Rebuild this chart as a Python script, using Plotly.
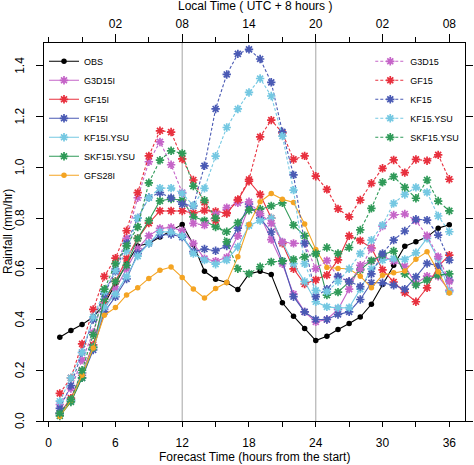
import plotly.graph_objects as go

# ── DATA ─────────────────────────────────────────────────────
hours = list(range(1, 37))

obs = [0.33, 0.357, 0.38, 0.41, 0.46, 0.54, 0.62, 0.69, 0.70, 0.725, 0.75, 0.775,
       0.696, 0.59, 0.559, 0.546, 0.518, 0.58, 0.59, 0.577, 0.466, 0.413, 0.365, 0.317,
       0.334, 0.361, 0.384, 0.41, 0.46, 0.538, 0.614, 0.689, 0.707, 0.726, 0.76, 0.774]

g3d15i = [0.03, 0.08, 0.18, 0.29, 0.44, 0.52, 0.60, 0.68, 0.73, 0.759, 0.763, 0.75,
          0.70, 0.64, 0.63, 0.645, 0.73, 0.845, 0.81, 0.715, 0.62, 0.50, 0.43, 0.391,
          0.40, 0.44, 0.52, 0.614, 0.63, 0.65, 0.63, 0.61, 0.542, 0.571, 0.57, 0.515]

gf15i = [0.03, 0.09, 0.19, 0.30, 0.47, 0.55, 0.64, 0.72, 0.78, 0.828, 0.828, 0.828,
         0.82, 0.83, 0.826, 0.82, 0.87, 0.945, 0.893, 0.80, 0.70, 0.60, 0.54, 0.556,
         0.575, 0.635, 0.73, 0.711, 0.682, 0.596, 0.548, 0.506, 0.47, 0.525, 0.61, 0.654]

kf15i = [0.03, 0.08, 0.17, 0.28, 0.43, 0.49, 0.56, 0.66, 0.70, 0.733, 0.735, 0.725,
         0.668, 0.678, 0.671, 0.69, 0.76, 0.855, 0.80, 0.745, 0.63, 0.49, 0.43, 0.40,
         0.40, 0.42, 0.43, 0.479, 0.545, 0.545, 0.535, 0.52, 0.568, 0.621, 0.612, 0.555]

kf15i_ysu = [0.03, 0.08, 0.19, 0.29, 0.45, 0.50, 0.57, 0.65, 0.70, 0.746, 0.745, 0.729,
             0.66, 0.634, 0.618, 0.634, 0.686, 0.77, 0.79, 0.80, 0.705, 0.62, 0.55, 0.47,
             0.45, 0.446, 0.447, 0.52, 0.60, 0.634, 0.64, 0.637, 0.663, 0.72, 0.64, 0.51]

skf15i_ysu = [0.02, 0.075, 0.17, 0.29, 0.48, 0.55, 0.614, 0.72, 0.79, 0.868, 0.875, 0.871,
              0.805, 0.79, 0.765, 0.746, 0.782, 0.831, 0.835, 0.848, 0.86, 0.772, 0.73, 0.66,
              0.496, 0.508, 0.548, 0.596, 0.632, 0.655, 0.67, 0.58, 0.536, 0.555, 0.575, 0.58]

gfs28i = [0.018, 0.082, 0.18, 0.288, 0.417, 0.447, 0.497, 0.525, 0.562, 0.594, 0.607, 0.566,
          0.52, 0.485, 0.522, 0.546, 0.647, 0.775, 0.864, 0.897, 0.874, 0.861, 0.777, 0.676,
          0.605, 0.601, 0.599, 0.571, 0.525, 0.575, 0.584, 0.591, 0.638, 0.667, 0.588, 0.505]

g3d15 = [0.065, 0.128, 0.24, 0.349, 0.50, 0.60, 0.72, 0.88, 1.022, 1.10, 1.01, 0.90,
         0.779, 0.772, 0.815, 0.841, 0.86, 0.864, 0.818, 0.779, 0.706, 0.70, 0.70, 0.60,
         0.632, 0.568, 0.55, 0.60, 0.68, 0.768, 0.812, 0.816, 0.79, 0.73, 0.648, 0.55]

gf15 = [0.109, 0.17, 0.304, 0.44, 0.57, 0.642, 0.75, 0.90, 1.045, 1.144, 1.139, 1.033,
        0.95, 0.862, 0.79, 0.818, 0.873, 0.952, 1.12, 1.186, 1.136, 1.031, 1.045, 0.965,
        0.913, 0.836, 0.805, 0.871, 0.937, 0.996, 1.029, 0.979, 1.031, 1.026, 1.049, 0.953]

kf15 = [0.05, 0.14, 0.27, 0.40, 0.50, 0.59, 0.70, 0.80, 0.881, 0.90, 0.88, 0.855,
        0.848, 1.006, 1.23, 1.366, 1.447, 1.465, 1.427, 1.335, 1.14, 0.97, 0.70, 0.49,
        0.52, 0.57, 0.55, 0.53, 0.58, 0.66, 0.713, 0.749, 0.795, 0.792, 0.733, 0.634]

kf15_ysu = [0.078, 0.17, 0.27, 0.41, 0.51, 0.594, 0.67, 0.80, 0.88, 0.918, 0.918, 0.897,
            0.85, 0.917, 1.044, 1.157, 1.23, 1.295, 1.35, 1.281, 1.123, 0.91, 0.62, 0.515,
            0.51, 0.55, 0.60, 0.66, 0.713, 0.772, 0.858, 0.893, 0.921, 0.901, 0.808, 0.746]

skf15_ysu = [0.03, 0.085, 0.20, 0.34, 0.52, 0.62, 0.69, 0.765, 0.939, 1.028, 1.065, 1.055,
             0.926, 0.87, 0.80, 0.706, 0.60, 0.581, 0.608, 0.627, 0.63, 0.637, 0.647, 0.66,
             0.684, 0.66, 0.684, 0.753, 0.838, 0.941, 0.963, 0.921, 0.878, 0.95, 0.867, 0.828]

local_ticks = [6, 12, 18, 24, 30, 36]
local_labels = ["02", "08", "14", "20", "02", "08"]
rain_ticks = [0.0, 0.2, 0.4, 0.6, 0.8, 1.0, 1.2, 1.4]

# ── STYLES ───────────────────────────────────────────────────
VIOLET, RED, BLUE = "#c564c8", "#e8303e", "#4a5ab4"
CYAN, GREEN, ORANGE = "#74c8e2", "#2f9a58", "#f4a423"
FONT = "Liberation Sans, Arial, sans-serif"

# name, values, colour, dashed?, symbol, legend
series = [
    ("OBS", obs, "black", False, "circle", "legend"),
    ("G3D15I", g3d15i, VIOLET, False, "asterisk-open", "legend"),
    ("GF15I", gf15i, RED, False, "asterisk-open", "legend"),
    ("KF15I", kf15i, BLUE, False, "asterisk-open", "legend"),
    ("KF15I.YSU", kf15i_ysu, CYAN, False, "asterisk-open", "legend"),
    ("SKF15I.YSU", skf15i_ysu, GREEN, False, "asterisk-open", "legend"),
    ("GFS28I", gfs28i, ORANGE, False, "circle", "legend"),
    ("G3D15", g3d15, VIOLET, True, "asterisk-open", "legend2"),
    ("GF15", gf15, RED, True, "asterisk-open", "legend2"),
    ("KF15", kf15, BLUE, True, "asterisk-open", "legend2"),
    ("KF15.YSU", kf15_ysu, CYAN, True, "asterisk-open", "legend2"),
    ("SKF15.YSU", skf15_ysu, GREEN, True, "asterisk-open", "legend2"),
]

fig = go.Figure()

for name, vals, col, dashed, sym, leg in series:
    if sym == "circle":
        mk = dict(symbol="circle", size=5.5, color=col)
    else:
        mk = dict(symbol=sym, size=7, color=col, line=dict(color=col, width=1.7))
    fig.add_trace(go.Scatter(
        x=hours, y=vals, name=name, mode="lines+markers",
        line=dict(color=col, width=1.1, dash="3px,2px" if dashed else "solid"),
        marker=mk, legend=leg,
    ))

# dummy trace so the top (local time) axis is drawn
fig.add_trace(go.Scatter(x=hours, y=obs, xaxis="x2", mode="lines",
                         line=dict(width=0), showlegend=False, hoverinfo="skip"))

# grey guide lines at 12 and 24 h
for xv in [12, 24]:
    fig.add_shape(type="line", x0=xv, x1=xv, yref="paper", y0=0, y1=1,
                  line=dict(color="#b4b4b4", width=1.2), layer="below")

axis_common = dict(showgrid=False, zeroline=False, showline=True, linecolor="black",
                   linewidth=1.3, ticks="outside", tickcolor="black", automargin=False,
                   tickfont=dict(size=12, color="black", family=FONT))

fig.update_layout(
    width=474, height=465,
    margin=dict(l=44, r=9, t=43, b=44),
    paper_bgcolor="white", plot_bgcolor="white",
    font=dict(family=FONT, color="black"),
    xaxis=dict(range=[-0.42, 37.41], tickmode="linear", tick0=0, dtick=6, ticklen=5,
               minor=dict(tick0=0, dtick=3, ticks="outside", ticklen=5, tickcolor="black"),
               ticklabelstandoff=5, **axis_common),
    xaxis2=dict(range=[-0.42, 37.41], overlaying="x", side="top", anchor="y",
                tickmode="array", tickvals=local_ticks, ticktext=local_labels, ticklen=8,
                minor=dict(tick0=0, dtick=3, ticks="outside", ticklen=5, tickcolor="black"),
                ticklabelstandoff=1, **axis_common),
    # rotated y tick labels are written as annotations below
    yaxis=dict(range=[0, 1.49], tickmode="array", tickvals=rain_ticks, showticklabels=False,
               ticklen=7, mirror="ticks", **axis_common),
    legend=dict(x=0.0, y=0.99, xanchor="left", yanchor="top", bgcolor="rgba(0,0,0,0)",
                font=dict(size=9, family=FONT), tracegroupgap=0),
    legend2=dict(x=0.775, y=0.99, xanchor="left", yanchor="top", bgcolor="rgba(0,0,0,0)",
                 font=dict(size=9, family=FONT), tracegroupgap=0),
    showlegend=True,
)

for tv in rain_ticks:
    fig.add_annotation(text=f"{tv:.1f}", xref="paper", yref="y", x=0, y=tv,
                       xanchor="right", xshift=-15, textangle=-90, showarrow=False,
                       font=dict(size=12, family=FONT))

fig.add_annotation(text="Forecast Time (hours from the start)", xref="paper", yref="paper",
                   x=0.5, y=0, yanchor="top", yshift=-27, showarrow=False,
                   font=dict(size=12, family=FONT))
fig.add_annotation(text="Local Time ( UTC + 8 hours )", xref="paper", yref="paper",
                   x=0.5, y=1, yanchor="bottom", yshift=28, showarrow=False,
                   font=dict(size=12, family=FONT))
fig.add_annotation(text="Rainfall (mm/hr)", xref="paper", yref="paper", textangle=-90,
                   x=0, y=0.5, xanchor="right", xshift=-27, showarrow=False,
                   font=dict(size=12, family=FONT))

# drop the default 8px body margin so the figure fills the window exactly
fig.write_html("out.html", config={"displayModeBar": False},
               post_script="document.body.style.margin='0';document.body.style.overflow='hidden';")
